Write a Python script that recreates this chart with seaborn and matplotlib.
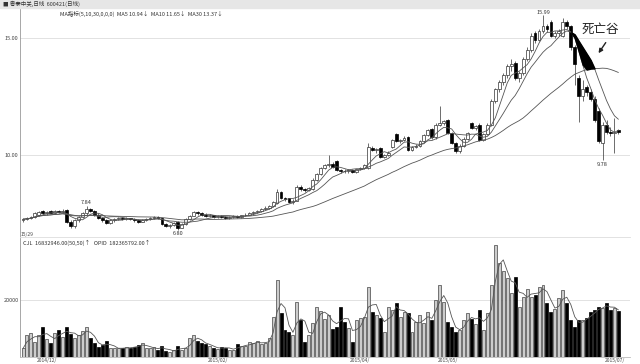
import numpy as np
import pandas as pd
import matplotlib
matplotlib.use("Agg")
import matplotlib.pyplot as plt
from matplotlib.patches import Rectangle
import seaborn as sns

# 日K线数据
opens = [7.20, 7.25, 7.30, 7.35, 7.45, 7.60, 7.50, 7.60, 7.52, 7.62,
         7.55, 7.65, 7.15, 6.95, 7.20, 7.35, 7.50, 7.70, 7.60, 7.45,
         7.30, 7.20, 7.10, 7.20, 7.25, 7.30, 7.25, 7.30, 7.25, 7.20,
         7.15, 7.22, 7.26, 7.32, 7.35, 7.30, 7.05, 6.95, 7.00, 7.15,
         6.90, 7.05, 7.25, 7.40, 7.55, 7.50, 7.45, 7.40, 7.42, 7.35,
         7.40, 7.35, 7.30, 7.35, 7.40, 7.35, 7.42, 7.45, 7.50, 7.55,
         7.60, 7.70, 7.75, 7.80, 7.95, 8.40, 8.15, 8.15, 8.00, 8.05,
         8.62, 8.55, 8.50, 8.55, 8.95, 9.20, 9.45, 9.55, 9.62, 9.75,
         9.35, 9.32, 9.30, 9.35, 9.28, 9.40, 9.45, 9.45, 10.30, 10.20,
         10.30, 9.90, 10.00, 10.35, 10.90, 10.60, 10.65, 10.75, 10.20, 10.35,
         10.40, 10.60, 10.85, 11.10, 10.75, 11.30, 11.35, 11.50, 10.95, 10.50,
         10.15, 10.40, 10.70, 11.35, 11.15, 11.30, 10.65, 10.90, 11.30, 12.30,
         12.80, 13.10, 13.40, 13.80, 13.95, 13.30, 13.50, 14.10, 14.50, 15.20,
         14.90, 15.30, 15.50, 15.70, 15.10, 15.20, 15.10, 15.70, 15.50, 14.60,
         13.30, 12.50, 12.90, 12.70, 12.40, 11.90, 10.50, 11.30, 11.00, 10.95, 11.05]
highs = [7.30, 7.35, 7.40, 7.55, 7.60, 7.65, 7.60, 7.65, 7.65, 7.66,
         7.68, 7.70, 7.20, 7.25, 7.40, 7.55, 7.84, 7.75, 7.65, 7.50,
         7.35, 7.25, 7.25, 7.30, 7.35, 7.35, 7.35, 7.32, 7.30, 7.25,
         7.25, 7.30, 7.35, 7.40, 7.38, 7.32, 7.10, 7.05, 7.12, 7.18,
         7.10, 7.30, 7.45, 7.60, 7.62, 7.55, 7.50, 7.48, 7.45, 7.45,
         7.42, 7.38, 7.40, 7.45, 7.42, 7.45, 7.50, 7.55, 7.60, 7.65,
         7.75, 7.80, 7.85, 8.05, 8.55, 8.45, 8.20, 8.18, 8.10, 8.70,
         8.70, 8.60, 8.65, 9.00, 9.25, 9.50, 9.60, 10.00, 9.70, 9.78,
         9.42, 9.38, 9.40, 9.38, 9.42, 9.50, 9.60, 10.50, 10.40, 10.30,
         10.35, 10.05, 10.15, 10.70, 10.95, 10.70, 10.80, 10.80, 10.40, 10.45,
         10.65, 10.90, 11.10, 11.15, 11.35, 12.10, 11.50, 11.55, 11.00, 10.55,
         10.45, 10.75, 11.00, 11.40, 11.30, 11.35, 10.95, 11.35, 12.40, 12.85,
         13.20, 13.50, 13.90, 14.10, 14.00, 13.60, 14.20, 14.60, 15.20, 15.30,
         15.40, 15.99, 15.60, 15.75, 15.30, 15.40, 15.85, 15.75, 15.55, 14.70,
         13.40, 13.20, 13.00, 12.80, 12.50, 12.00, 11.40, 11.50, 11.20, 11.60, 11.10]
lows = [7.15, 7.20, 7.25, 7.30, 7.40, 7.45, 7.45, 7.50, 7.48, 7.50,
        7.52, 7.10, 6.90, 6.90, 7.15, 7.30, 7.45, 7.55, 7.40, 7.28,
        7.15, 7.05, 7.05, 7.15, 7.20, 7.20, 7.20, 7.20, 7.15, 7.10,
        7.12, 7.18, 7.22, 7.28, 7.25, 7.00, 6.92, 6.90, 6.95, 6.80,
        6.88, 7.02, 7.20, 7.38, 7.45, 7.40, 7.35, 7.35, 7.30, 7.32,
        7.30, 7.25, 7.28, 7.32, 7.30, 7.32, 7.38, 7.42, 7.45, 7.50,
        7.55, 7.65, 7.70, 7.78, 7.92, 8.10, 8.02, 7.95, 7.92, 8.02,
        8.45, 8.42, 8.45, 8.50, 8.90, 9.15, 9.38, 9.50, 9.45, 9.30,
        9.25, 9.22, 9.25, 9.22, 9.25, 9.35, 9.40, 9.42, 10.15, 10.10,
        9.85, 9.85, 9.95, 10.30, 10.55, 10.50, 10.60, 10.15, 10.15, 10.30,
        10.35, 10.55, 10.80, 10.70, 10.70, 11.25, 11.30, 10.90, 10.45, 10.10,
        10.10, 10.35, 10.65, 11.10, 11.05, 10.60, 10.60, 10.85, 11.25, 12.20,
        12.70, 13.00, 13.30, 13.60, 13.20, 13.10, 13.40, 14.00, 14.40, 14.80,
        14.85, 15.20, 15.25, 15.05, 15.00, 15.10, 15.05, 15.40, 14.50, 13.00,
        11.40, 12.30, 12.50, 12.30, 11.40, 10.50, 9.78, 10.90, 10.80, 10.10, 10.90]
closes = [7.25, 7.30, 7.35, 7.50, 7.55, 7.50, 7.55, 7.52, 7.60, 7.55,
          7.62, 7.15, 6.95, 7.20, 7.35, 7.50, 7.68, 7.60, 7.45, 7.30,
          7.20, 7.10, 7.20, 7.25, 7.30, 7.25, 7.30, 7.25, 7.20, 7.15,
          7.22, 7.26, 7.32, 7.35, 7.30, 7.05, 6.95, 7.00, 7.08, 6.90,
          7.05, 7.25, 7.40, 7.55, 7.50, 7.45, 7.40, 7.42, 7.35, 7.40,
          7.35, 7.30, 7.35, 7.40, 7.35, 7.42, 7.45, 7.50, 7.55, 7.60,
          7.70, 7.75, 7.80, 8.00, 8.40, 8.15, 8.10, 8.00, 8.05, 8.65,
          8.55, 8.50, 8.60, 8.95, 9.20, 9.45, 9.55, 9.62, 9.50, 9.35,
          9.32, 9.30, 9.35, 9.28, 9.40, 9.45, 9.55, 10.35, 10.20, 10.25,
          9.90, 10.00, 10.10, 10.65, 10.60, 10.65, 10.72, 10.20, 10.35, 10.40,
          10.60, 10.85, 11.05, 10.75, 11.30, 11.35, 11.45, 10.95, 10.50, 10.15,
          10.40, 10.70, 10.95, 11.15, 11.25, 10.65, 10.90, 11.30, 12.30, 12.80,
          13.10, 13.40, 13.80, 13.90, 13.30, 13.50, 14.10, 14.50, 15.10, 14.90,
          15.30, 15.50, 15.40, 15.10, 15.20, 15.30, 15.70, 15.50, 14.60, 13.90,
          12.50, 12.80, 12.70, 12.40, 11.50, 10.60, 11.30, 11.00, 10.95, 11.00, 11.00]
volumes = [3000, 7700, 8300, 5400, 7700, 10600, 6300, 4800, 8300, 9500, 7000,
           10600, 8000, 6500, 7800, 9000, 10500, 6500, 5000, 3500, 4300, 5700, 3000,
           3000, 3200, 3000, 3400, 3300, 3600, 4200, 4800, 3200, 3000, 3400, 2500, 3800,
           2200, 1800, 2400, 3800, 2600, 3000, 6500, 7800, 5500, 4800,
           4500, 4000, 3000, 2800, 3600, 3300, 2600, 2400, 4500, 3700, 3900, 5200, 4800, 5600, 4500,
           5000, 6500,
           14000, 27000, 15300, 9500, 8800, 7700, 19400, 13000, 5400, 7700, 11800, 17700,
           16000, 13500, 14700, 9800, 10600, 17700, 12200, 10300, 5400, 13100,
           13600, 14200, 24700, 15900, 14700, 13600, 8900, 17700, 16500, 18800,
           14200, 15900, 15300, 8900, 12400, 14700, 11800, 15900, 13000, 20000,
           25300, 19400, 12200, 10600, 8700, 9500, 13000, 15300, 13300, 11500,
           16500, 9500, 15300, 25300, 39300, 32900, 30000, 27600, 22300, 28200,
           17700, 21100, 24000, 21100, 21700, 24700, 25300, 18800, 15900, 16800,
           20600, 23500, 18800, 13000, 10600, 13000, 13000, 13800, 15900, 16500,
           17700, 17300, 18800, 16500, 17100, 16000]
tick_pos = [6, 49, 85, 107, 149]
tick_labels = ["2014/12/", "2015/02/", "2015/04/", "2015/05/", "2015/07/"]

sns.set_theme(style="white")
plt.rcParams["font.family"] = ["Noto Sans CJK SC", "DejaVu Sans"]

df = pd.DataFrame({"open": opens, "high": highs, "low": lows,
                   "close": closes, "vol": volumes})
df["i"] = np.arange(len(df))
df["ma5"] = df["close"].rolling(5, min_periods=1).mean()
df["ma10"] = df["close"].rolling(10, min_periods=1).mean()
df["ma30"] = df["close"].rolling(30, min_periods=1).mean()
df["vma"] = df["vol"].rolling(3, min_periods=1).mean()
up = df["close"] >= df["open"]

fig = plt.figure(figsize=(6.4, 3.64), dpi=100)
fig.patches.append(Rectangle((0, 0.978), 1, 0.022, transform=fig.transFigure,
                             color="#e6e6e6", zorder=0))
ax = fig.add_axes([0.03125, 0.349, 0.953, 0.629])
axv = fig.add_axes([0.03125, 0.0192, 0.953, 0.327])

edge = "#333333"
# 影线
ax.vlines(df["i"], df["low"], df["high"], color=edge, lw=0.5, zorder=2)
body_lo = np.minimum(df["open"], df["close"])
body_h = np.maximum((df["close"] - df["open"]).abs(), 0.025)
ax.bar(df["i"][up], body_h[up], bottom=body_lo[up], width=0.72,
       facecolor="white", edgecolor=edge, lw=0.5, zorder=3)
ax.bar(df["i"][~up], body_h[~up], bottom=body_lo[~up], width=0.72,
       facecolor="black", edgecolor="black", lw=0.5, zorder=3)

for col in ["ma5", "ma10", "ma30"]:
    sns.lineplot(data=df, x="i", y=col, ax=ax, color="#555555", lw=0.6,
                 legend=False, zorder=4)

# 死亡谷
lower = np.maximum(df["ma5"], df["ma30"])
mask = (df["i"] >= 136) & (df["ma10"] > lower)
ax.fill_between(df["i"], lower, df["ma10"], where=mask, interpolate=True,
                color="black", zorder=5)
ax.text(140.8, 15.35, "死亡谷", fontsize=9, color="#222222", va="center", ha="left")
ax.annotate("", xy=(144.6, 14.25), xytext=(147.2, 14.9),
            arrowprops=dict(arrowstyle="-|>", color="#222222", lw=1.0,
                            mutation_scale=6))

ax.text(131, 16.0, "15.99", fontsize=4, ha="center", va="bottom", color="#333333")
ax.text(16, 7.88, "7.84", fontsize=4, ha="center", va="bottom", color="#333333")
ax.text(39, 6.74, "6.80", fontsize=4, ha="center", va="top", color="#333333")
ax.text(146, 9.68, "9.78", fontsize=4, ha="center", va="top", color="#333333")
ax.text(-0.5, 6.62, "15/29", fontsize=3.5, ha="left", va="center", color="#444444")

ax.set_xlim(-0.76, 152.9)
ax.set_ylim(6.496, 16.28)
ax.set_yticks([10, 15])
ax.set_yticklabels(["10.00", "15.00"])
ax.set_xticks([])
ax.grid(axis="y", color="#dddddd", lw=0.6)
ax.tick_params(axis="y", labelsize=4, length=0, pad=1, colors="#444444")
ax.set_xlabel("")
ax.set_ylabel("")
for s in ["top", "right"]:
    ax.spines[s].set_visible(False)
ax.spines["left"].set_color("#999999")
ax.spines["bottom"].set_color("#dddddd")
for s in ["left", "bottom"]:
    ax.spines[s].set_linewidth(0.6)

# 成交量
axv.bar(df["i"][up], df["vol"][up], width=0.75, facecolor="#cccccc",
        edgecolor="#444444", lw=0.5, zorder=2)
axv.bar(df["i"][~up], df["vol"][~up], width=0.75, facecolor="black",
        edgecolor="black", lw=0.5, zorder=2)
sns.lineplot(data=df, x="i", y="vma", ax=axv, color="#555555", lw=0.6,
             legend=False, zorder=3)
axv.set_xlim(-0.76, 152.9)
axv.set_ylim(0, 41750)
axv.set_yticks([20000])
axv.set_yticklabels(["20000"])
axv.set_xticks(tick_pos)
axv.set_xticklabels(tick_labels)
axv.grid(axis="y", color="#dddddd", lw=0.6)
axv.tick_params(axis="y", labelsize=4, length=0, pad=1, colors="#444444")
axv.tick_params(axis="x", labelsize=3.5, length=0, pad=0.5, colors="#444444")
axv.set_xlabel("")
axv.set_ylabel("")
for s in ["top", "right"]:
    axv.spines[s].set_visible(False)
axv.spines["left"].set_color("#999999")
axv.spines["bottom"].set_color("#bbbbbb")
for s in ["left", "bottom"]:
    axv.spines[s].set_linewidth(0.6)

fig.text(0.005, 0.989, "■ 粤泰中关,日线  600421(日线)", fontsize=4, va="center",
         color="#333333")
fig.text(0.094, 0.963, "MA指标(5,10,30,0,0,0)  MA5 10.94↓  MA10 11.65↓  MA30 13.37↓",
         fontsize=4, va="center", color="#333333")
fig.text(0.036, 0.332, "CJL  16832946.00(50,50)↑   OPID  182365792.00↑",
         fontsize=4, va="center", color="#333333")

fig.savefig("out.png", dpi=100)
